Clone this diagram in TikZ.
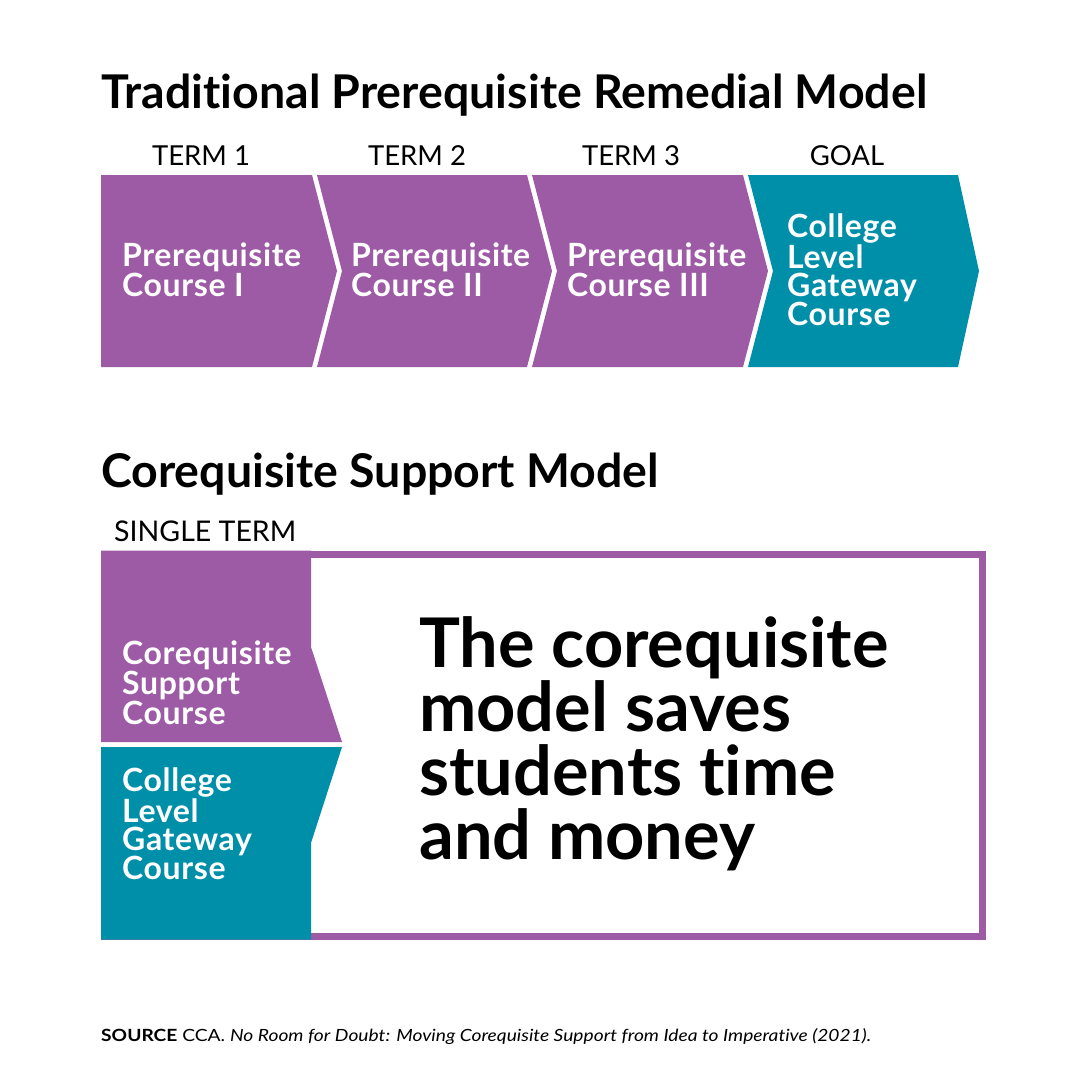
\documentclass[tikz,border=0pt]{standalone}
\usepackage{fontspec}
\setmainfont[Ligatures=NoCommon]{Lato}
\newfontfamily\boxfont[Ligatures=NoCommon,LetterSpace=2]{Lato}
\definecolor{cpurple}{RGB}{157,91,165}
\definecolor{cteal}{RGB}{0,143,168}
\begin{document}
\begin{tikzpicture}[x=1pt,y=-1pt,
  title/.style={anchor=base west,inner sep=0,font=\fontsize{46.5}{46}\selectfont\bfseries},
  term/.style={anchor=base,inner sep=0,font=\fontsize{27.5}{27}\selectfont},
  boxtext/.style={anchor=west,inner sep=0,align=left,text=white,font=\boxfont\fontsize{32}{28}\selectfont\bfseries},
  bigtext/.style={anchor=west,inner sep=0,align=left,text=black,font=\fontsize{68.5}{64}\selectfont\bfseries}]
\useasboundingbox (0,0) rectangle (1080,1080);
\fill[white] (0,0) rectangle (1080,1080);
% top title
\node[title] (t1) at (101,108) {Traditional Prerequisite Remedial Model};
\node[term] (l1) at (201,165) {TERM 1};
\node[term] (l2) at (417,165) {TERM 2};
\node[term] (l3) at (631,165) {TERM 3};
\node[term] (l4) at (847,165) {GOAL};
% chevrons
\fill[cpurple] (101,175) -- (312,175) -- (337,271) -- (312,367) -- (101,367) -- cycle;
\fill[cpurple] (317,175) -- (527,175) -- (552,271) -- (527,367) -- (317,367) -- (342,271) -- cycle;
\fill[cpurple] (532,175) -- (743,175) -- (768,271) -- (743,367) -- (532,367) -- (557,271) -- cycle;
\fill[cteal] (748,175) -- (958,175) -- (979,271) -- (958,367) -- (748,367) -- (773,271) -- cycle;
\node[boxtext] (b1) at (122,270) {Prerequisite\\Course I};
\node[boxtext] (b2) at (351,270) {Prerequisite\\Course II};
\node[boxtext] (b3) at (567,270) {Prerequisite\\Course III};
\node[boxtext] (b4) at (787,270) {College\\Level\\Gateway\\Course};
% second title
\node[title] (t2) at (101,487) {Corequisite Support Model};
\node[term,anchor=base west,font=\fontsize{28.5}{28}\selectfont] (l5) at (114,541) {SINGLE TERM};
% frame
\fill[cpurple] (101,550.5) rectangle (985.5,939.5);
\fill[white] (101,557.5) rectangle (978.5,932.5);
\fill[cpurple] (101,550.5) -- (311,550.5) -- (311,647) -- (342,742) -- (101,742) -- cycle;
\fill[cteal] (101,747) -- (342,747) -- (311,843) -- (311,939.5) -- (101,939.5) -- cycle;
\node[boxtext] (c1) at (122,683) {Corequisite\\Support\\Course};
\node[boxtext] (c2) at (122,824) {College\\Level\\Gateway\\Course};
\node[bigtext] (big) at (419,744) {The corequisite\\model saves\\students time\\and money};
% source
\node[anchor=base west,inner sep=0,font=\fontsize{16}{16}\selectfont] (src) at (101,1041)
  {\scalebox{1.2}[1.05]{\textbf{SOURCE} CCA. \textit{No Room for Doubt: Moving Corequisite Support from Idea to Imperative (2021).}}};
\end{tikzpicture}
\end{document}
